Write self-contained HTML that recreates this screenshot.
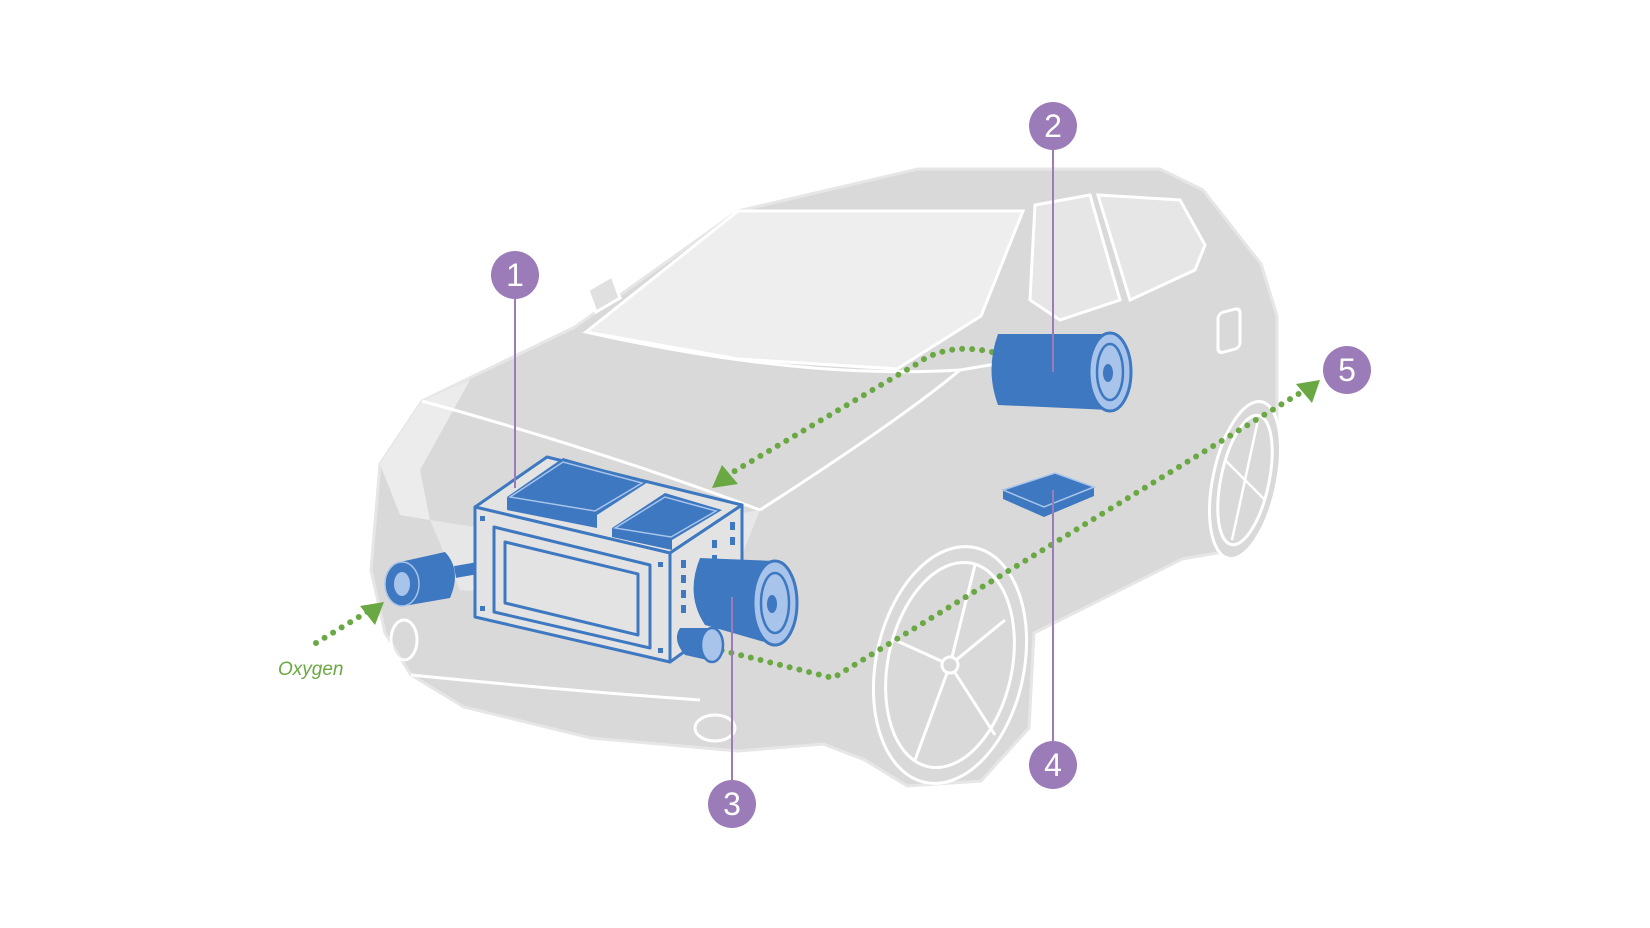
<!DOCTYPE html>
<html><head><meta charset="utf-8"><style>
html,body{margin:0;padding:0;background:#fff;width:1650px;height:928px;overflow:hidden}
svg{display:block}
</style></head><body>
<svg width="1650" height="928" viewBox="0 0 1650 928" xmlns="http://www.w3.org/2000/svg">
<defs>
<marker id="ah" markerWidth="6" markerHeight="6" refX="3" refY="3" orient="auto" markerUnits="userSpaceOnUse" viewBox="0 0 6 6"></marker>
</defs>
<!-- car body -->
<path d="M380,464 L422,401 L575,327 L738,211 L918,169 L1160,169 L1203,190 L1261,264 L1277,316 L1277,443 L1240,549 L1182,559 L1034,633 L1029,728 L981,781 L907,786 L865,760 L823,744 L738,751 L591,738 L464,707 L411,675 L385,633 L371,570 Z" fill="#d9d9d9" stroke="#e6e6e6" stroke-width="3"/>
<!-- front lighter area -->
<path d="M380,464 L422,401 L470,380 L420,470 L430,520 L400,515 Z" fill="#ececec"/>
<path d="M430,520 L560,540 L700,520 L760,510 L740,560 L600,600 L460,590 Z" fill="#ececec" opacity="0.7"/>
<!-- windshield -->
<path d="M586,332 L738,211 L1023,211 L981,316 L897,369 L738,359 Z" fill="#eeeeee" stroke="#fff" stroke-width="3"/>
<!-- side windows -->
<path d="M1035,205 L1090,195 L1120,300 L1060,320 L1030,300 Z" fill="#e6e6e6" stroke="#fff" stroke-width="3"/>
<path d="M1098,195 L1180,200 L1205,245 L1195,270 L1130,300 Z" fill="#e6e6e6" stroke="#fff" stroke-width="3"/>
<!-- body lines -->
<path d="M586,332 Q800,380 960,370 L1020,360" fill="none" stroke="#fff" stroke-width="3"/>
<path d="M422,401 Q600,450 760,510" fill="none" stroke="#fff" stroke-width="3"/>
<path d="M960,370 Q900,420 760,510" fill="none" stroke="#fff" stroke-width="3"/>
<path d="M411,675 Q560,690 700,700" fill="none" stroke="#fff" stroke-width="3"/>
<path d="M588,290 L612,276 L620,298 L596,312 Z" fill="#e0e0e0" stroke="#fff" stroke-width="3"/>
<rect x="1218" y="310" width="22" height="40" rx="5" fill="none" stroke="#fff" stroke-width="3" transform="skewY(-15) translate(0,330)"/>
<ellipse cx="404" cy="640" rx="13" ry="20" fill="none" stroke="#fff" stroke-width="3"/>
<ellipse cx="715" cy="728" rx="20" ry="13" fill="none" stroke="#fff" stroke-width="3"/>
<!-- wheels -->
<ellipse cx="950" cy="665" rx="74" ry="120" fill="#d9d9d9" stroke="#fff" stroke-width="3" transform="rotate(12 950 665)"/>
<ellipse cx="950" cy="665" rx="62" ry="104" fill="none" stroke="#fff" stroke-width="3" transform="rotate(12 950 665)"/>
<g stroke="#fff" stroke-width="3"><line x1="950" y1="665" x2="975" y2="565"/><line x1="950" y1="665" x2="1005" y2="620"/><line x1="950" y1="665" x2="995" y2="735"/><line x1="950" y1="665" x2="915" y2="760"/><line x1="950" y1="665" x2="895" y2="640"/></g>
<circle cx="950" cy="665" r="8" fill="#d9d9d9" stroke="#fff" stroke-width="3"/>
<ellipse cx="1245" cy="480" rx="32" ry="80" fill="#d9d9d9" stroke="#fff" stroke-width="3" transform="rotate(12 1245 480)"/>
<ellipse cx="1245" cy="480" rx="24" ry="66" fill="none" stroke="#fff" stroke-width="3" transform="rotate(12 1245 480)"/>
<g stroke="#fff" stroke-width="2.5"><line x1="1245" y1="480" x2="1258" y2="420"/><line x1="1245" y1="480" x2="1232" y2="540"/><line x1="1245" y1="480" x2="1265" y2="500"/><line x1="1245" y1="480" x2="1225" y2="460"/></g>

<!-- green dotted paths -->
<g fill="none" stroke="#6aa843" stroke-width="6" stroke-linecap="round" stroke-dasharray="0 10">
<path d="M992,352 C960,345 935,350 915,365 L728,475"/>
<path d="M712,648 L833,678 L1305,390"/>
<path d="M316,643 L372,609"/>
</g>
<polygon points="712,488 722,465 738,484" fill="#6aa843"/>
<polygon points="1320,380 1296,384 1312,403" fill="#6aa843"/>
<polygon points="384,602 360,606 375,625" fill="#6aa843"/>
<text x="278" y="675" font-family="Liberation Sans, sans-serif" font-style="italic" font-size="19" fill="#6aa843">Oxygen</text>

<!-- left small cylinder -->
<path d="M455,572 L478,568" stroke="#3d78c0" stroke-width="12"/>
<path d="M400,562 L445,552 Q462,570 450,598 L404,606 Z" fill="#3d78c0"/>
<ellipse cx="402" cy="584" rx="17" ry="22" fill="#3d78c0" stroke="#a9c4ea" stroke-width="1.5"/>
<ellipse cx="402" cy="584" rx="8" ry="12" fill="#a9c4ea"/>

<!-- fuel cell box -->
<g stroke="#3d78c0" stroke-width="3" stroke-linejoin="round">
<polygon points="475,507 547,457 742,505 670,553" fill="#e3e3e3"/>
<polygon points="475,507 670,553 670,662 475,617" fill="#e3e3e3"/>
<polygon points="670,553 742,505 742,610 670,662" fill="#e3e3e3"/>
<polygon points="494,527 650,565 650,648 494,612" fill="none"/>
<polygon points="505,542 638,574 638,635 505,603" fill="none"/>
</g>
<g fill="#3d78c0">
<polygon points="507,497 563,458 648,482 597,515 597,528 507,510"/>
<polygon points="612,528 665,493 722,510 672,540 672,550 612,537"/>
<rect x="480" y="516" width="5" height="5"/><rect x="658" y="562" width="5" height="5"/><rect x="480" y="606" width="5" height="5"/><rect x="658" y="648" width="5" height="5"/>
<rect x="681" y="560" width="5" height="8"/><rect x="681" y="575" width="5" height="8"/><rect x="681" y="590" width="5" height="8"/><rect x="681" y="605" width="5" height="8"/>
<rect x="712" y="540" width="5" height="8"/><rect x="712" y="555" width="5" height="8"/><rect x="730" y="522" width="5" height="8"/><rect x="730" y="537" width="5" height="8"/>
</g>
<polygon points="510,497 563,462 642,483 595,511" fill="none" stroke="#a9c4ea" stroke-width="1.5"/>
<polygon points="615,528 665,497 716,511 671,537" fill="none" stroke="#a9c4ea" stroke-width="1.5"/>

<!-- motor cylinder 3 -->
<path d="M700,558 L775,561 L775,645 L705,625 Q685,595 700,558 Z" fill="#3d78c0"/>
<ellipse cx="775" cy="603" rx="22" ry="42" fill="#a9c4ea" stroke="#3d78c0" stroke-width="3"/>
<ellipse cx="775" cy="603" rx="14" ry="30" fill="none" stroke="#3d78c0" stroke-width="2.5"/>
<ellipse cx="772" cy="604" rx="5" ry="9" fill="#3d78c0"/>
<path d="M680,628 L712,628 L712,661 L685,655 Q672,640 680,628Z" fill="#3d78c0"/>
<ellipse cx="712" cy="645" rx="11" ry="17" fill="#a9c4ea" stroke="#3d78c0" stroke-width="2.5"/>

<!-- tank 2 -->
<path d="M998,334 L1110,334 L1110,410 L998,405 Q985,370 998,334 Z" fill="#3d78c0"/>
<ellipse cx="1110" cy="372" rx="21" ry="39" fill="#a9c4ea" stroke="#3d78c0" stroke-width="3"/>
<ellipse cx="1110" cy="372" rx="13" ry="28" fill="none" stroke="#3d78c0" stroke-width="2.5"/>
<ellipse cx="1108" cy="373" rx="5" ry="9" fill="#3d78c0"/>

<!-- battery 4 -->
<polygon points="1003,490 1055,473 1094,487 1094,496 1044,517 1003,499" fill="#3d78c0"/>
<polygon points="1003,490 1055,473 1094,487 1044,507" fill="#3d78c0" stroke="#a9c4ea" stroke-width="1.5"/>

<!-- callouts -->
<g stroke="#9b7bb8" stroke-width="2">
<line x1="515" y1="299" x2="515" y2="488"/>
<line x1="1053" y1="150" x2="1053" y2="372"/>
<line x1="732" y1="780" x2="732" y2="597"/>
<line x1="1053" y1="741" x2="1053" y2="490"/>
</g>
<g fill="#9b7bb8">
<circle cx="515" cy="275" r="24"/><circle cx="1053" cy="126" r="24"/><circle cx="732" cy="804" r="24"/><circle cx="1053" cy="765" r="24"/><circle cx="1347" cy="370" r="24"/>
</g>
<g fill="#fff" font-family="Liberation Sans, sans-serif" font-size="32" text-anchor="middle">
<text x="515" y="286">1</text><text x="1053" y="137">2</text><text x="732" y="815">3</text><text x="1053" y="776">4</text><text x="1347" y="381">5</text>
</g>
</svg>
</body></html>
